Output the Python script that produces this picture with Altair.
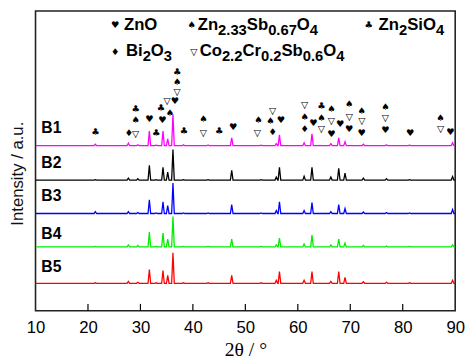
import altair as alt
import pandas as pd

# ---------------- data ----------------
samples = ["B1", "B2", "B3", "B4", "B5"]
colors = ["#ff00ff", "#000000", "#0000ff", "#00ee00", "#ff0000"]
baselines = [168, 133, 99, 65, 28]          # vertical offset of each pattern (a.u.)
label_y = [186, 150, 117, 78, 44]

peak_pos = [21.4, 27.7, 29.5, 31.7, 33.0, 34.3, 35.2, 36.2, 38.2, 42.9, 47.4, 53.0,
            55.9, 56.5, 61.2, 62.7, 66.3, 67.8, 69.0, 72.5, 76.9, 81.3, 89.5]
h_B1 = [1.5, 2.5, 1, 15, 0.5, 15, 7, 32, 1, 0.8, 8, 0.5, 2, 11, 3, 12, 2, 8, 4, 1.5, 1, 0.5, 3]
h_B2 = [0.5, 2, 1.5, 15, 0.5, 13, 8, 31, 0.5, 0.5, 10, 0.5, 3, 13, 4, 13, 3, 12, 7, 2, 1.5, 0.5, 3.5]
h_B3 = [2, 2, 1, 14, 0.5, 12, 8, 31, 0.5, 0.5, 9, 0.5, 3, 12, 3, 11, 2, 9, 5, 1.5, 1, 0.5, 4]
h_B4 = [0.5, 2, 1.5, 15, 0.5, 14, 8, 31, 0.5, 0.5, 8, 0.5, 2, 9, 3, 12, 2, 8, 4, 1.5, 1, 0.5, 2]
h_B5 = [0.5, 2, 1, 14, 0.5, 13, 8, 31, 0.5, 0.5, 8, 0.5, 3, 12, 3, 12, 2, 12, 6, 1.5, 1, 0.5, 3]
heights = [h_B1, h_B2, h_B3, h_B4, h_B5]

# phase markers above B1: (2theta, height, symbol)
mk_x = [21.4, 27.8, 29.1, 29.1, 29.1, 31.7, 33.0, 34.2, 33.9, 35.6, 35.1, 36.6, 37.0, 37.0, 37.0,
        38.3, 42.0, 42.0, 45.0, 47.7, 52.3, 52.5, 55.2, 54.8, 55.2, 56.8, 61.3, 61.3, 61.3, 63.0,
        64.5, 64.5, 64.5, 66.4, 66.4, 66.4, 68.1, 69.8, 69.8, 69.8, 72.2, 72.2, 72.2, 76.7, 76.7,
        76.7, 81.4, 87.2, 87.2, 89.1]
mk_y = [182, 181, 180, 194, 205, 195, 181, 194, 206, 201, 213, 213, 223, 233, 243,
        183, 195, 181, 183, 187, 181, 194, 203, 193, 182, 194, 209, 197, 185, 191,
        208, 196, 185, 205, 193, 180, 190, 210, 197, 185, 203, 193, 181, 207, 196,
        184, 181, 196, 185, 182]
mk_s = ["♣", "♦", "▽", "♠", "♣", "♥", "♣", "♥", "♣", "♠", "▽", "♥", "▽", "♠", "♣",
        "♣", "♠", "▽", "♣", "♥", "▽", "♠", "▽", "♠", "♦", "♥", "▽", "♠", "♦", "♥",
        "♣", "♠", "▽", "♠", "▽", "♥", "♥", "♠", "▽", "♥", "♠", "▽", "♥", "♠", "▽",
        "♥", "♥", "♠", "▽", "♥"]

tick_pos = [20, 30, 40, 50, 60, 70, 80]

# ---------------- build tables ----------------
rows = []
for s, b, hs in zip(samples, baselines, heights):
    pts = [(10.0, b)]
    for p, h in zip(peak_pos, hs):
        pts += [(p - 0.25, b), (p, b + h), (p + 0.25, b)]
    pts.append((90.0, b))
    for i, (x, y) in enumerate(pts):
        rows.append({"sample": s, "x": x, "y": y, "i": i})
df = pd.DataFrame(rows)

mk = pd.DataFrame({"x": mk_x, "y": mk_y, "s": mk_s})
lab = pd.DataFrame({"x": [11.1] * 5, "y": label_y, "s": samples})
tk = pd.DataFrame({"x": tick_pos})

# legend segments (text, is_subscript); widths from Arial-Bold metrics
W = {"Z": 611, "n": 611, "O": 778, "S": 667, "b": 611, "i": 278, "C": 722, "o": 611, "r": 389,
     ".": 278, "B": 722}
for d in "0123456789":
    W[d] = 556
MAIN, SUB = 17, 15
legend_items = [
    ("♥", 117, 14, 126, 19, [("ZnO", 0)]),
    ("♠", 195, 14, 201, 19, [("Zn", 0), ("2.33", 1), ("Sb", 0), ("0.67", 1), ("O", 0), ("4", 1)]),
    ("♣", 375, 14, 385, 19, [("Zn", 0), ("2", 1), ("SiO", 0), ("4", 1)]),
    ("♦", 117, 42, 128, 46, [("Bi", 0), ("2", 1), ("O", 0), ("3", 1)]),
    ("▽", 197, 42, 203, 46, [("Co", 0), ("2.2", 1), ("Cr", 0), ("0.2", 1), ("Sb", 0), ("0.6", 1),
                             ("O", 0), ("4", 1)]),
]
leg_sym, leg_txt = [], []
for sym, sx, sy, tx, ty, segs in legend_items:
    leg_sym.append({"s": sym, "px": sx - 36, "py": sy})
    x = tx - 36
    for t, sub in segs:
        fs = SUB if sub else MAIN
        leg_txt.append({"s": t, "px": x, "py": ty + (5 if sub else 0), "fs": fs})
        x += sum(W[c] for c in t) * fs / 1000.0
leg_sym = pd.DataFrame(leg_sym)
leg_txt = pd.DataFrame(leg_txt)

# ---------------- chart ----------------
xs = alt.Scale(domain=[10, 90], nice=False, zero=False)
ys = alt.Scale(domain=[0, 305], nice=False, zero=False)
X = alt.X("x:Q", scale=xs, axis=alt.Axis(
    values=[10, 20, 30, 40, 50, 60, 70, 80, 90], ticks=False, domain=False, grid=False,
    labelFont="Liberation Sans", labelFontSize=17, labelColor="black", labelPadding=9,
    labelFlush=False, labelOverlap=False,
    title="2θ / °", titleFont="Liberation Serif", titleFontSize=20, titleFontWeight="normal",
    titleColor="black", titlePadding=5))
Y = alt.Y("y:Q", scale=ys, axis=alt.Axis(
    labels=False, ticks=False, domain=False, grid=False,
    title="Intensity / a.u.", titleFont="Liberation Sans", titleFontSize=17,
    titleFontWeight="normal", titleColor="#111", titleX=-18, titleY=165,
    titleAngle=-90, titleAlign="center", titleBaseline="middle"))

lines = alt.Chart(df).mark_line(strokeWidth=1.3, clip=True).encode(
    x=X, y=Y,
    color=alt.Color("sample:N", scale=alt.Scale(domain=samples, range=colors), legend=None),
    order="i:Q")

markers = alt.Chart(mk).mark_text(font="DejaVu Sans", fontSize=9.5, color="black",
                                  align="center", baseline="middle").encode(
    x=X, y=Y, text="s:N")

labels = alt.Chart(lab).mark_text(font="Liberation Sans", fontSize=16, fontWeight="bold",
                                  color="black", align="left", baseline="middle").encode(
    x=X, y=Y, text="s:N")

ticks = alt.Chart(tk).mark_rule(color="black", strokeWidth=1.2).encode(
    x=X, y=alt.value(305), y2=alt.value(298))

lsym = alt.Chart(leg_sym).mark_text(font="DejaVu Sans", fontSize=9.5, color="black",
                                    align="center", baseline="middle").encode(
    x=alt.X("px:Q", scale=None), y=alt.Y("py:Q", scale=None), text="s:N")

ltxt = alt.Chart(leg_txt).mark_text(font="Liberation Sans", fontWeight="bold", color="black",
                                    align="left", baseline="alphabetic").encode(
    x=alt.X("px:Q", scale=None), y=alt.Y("py:Q", scale=None), text="s:N",
    size=alt.Size("fs:Q", scale=None, legend=None))

chart = alt.layer(lines, ticks, markers, labels, lsym, ltxt).properties(
    width=427, height=305,
    background="white",
    autosize=alt.AutoSizeParams(type="none"),
    padding={"left": 28, "top": 0, "right": 11, "bottom": 48},
).configure_view(stroke="#222", strokeWidth=1.6)

chart.save("out.html", embed_options={"renderer": "svg", "actions": False})
